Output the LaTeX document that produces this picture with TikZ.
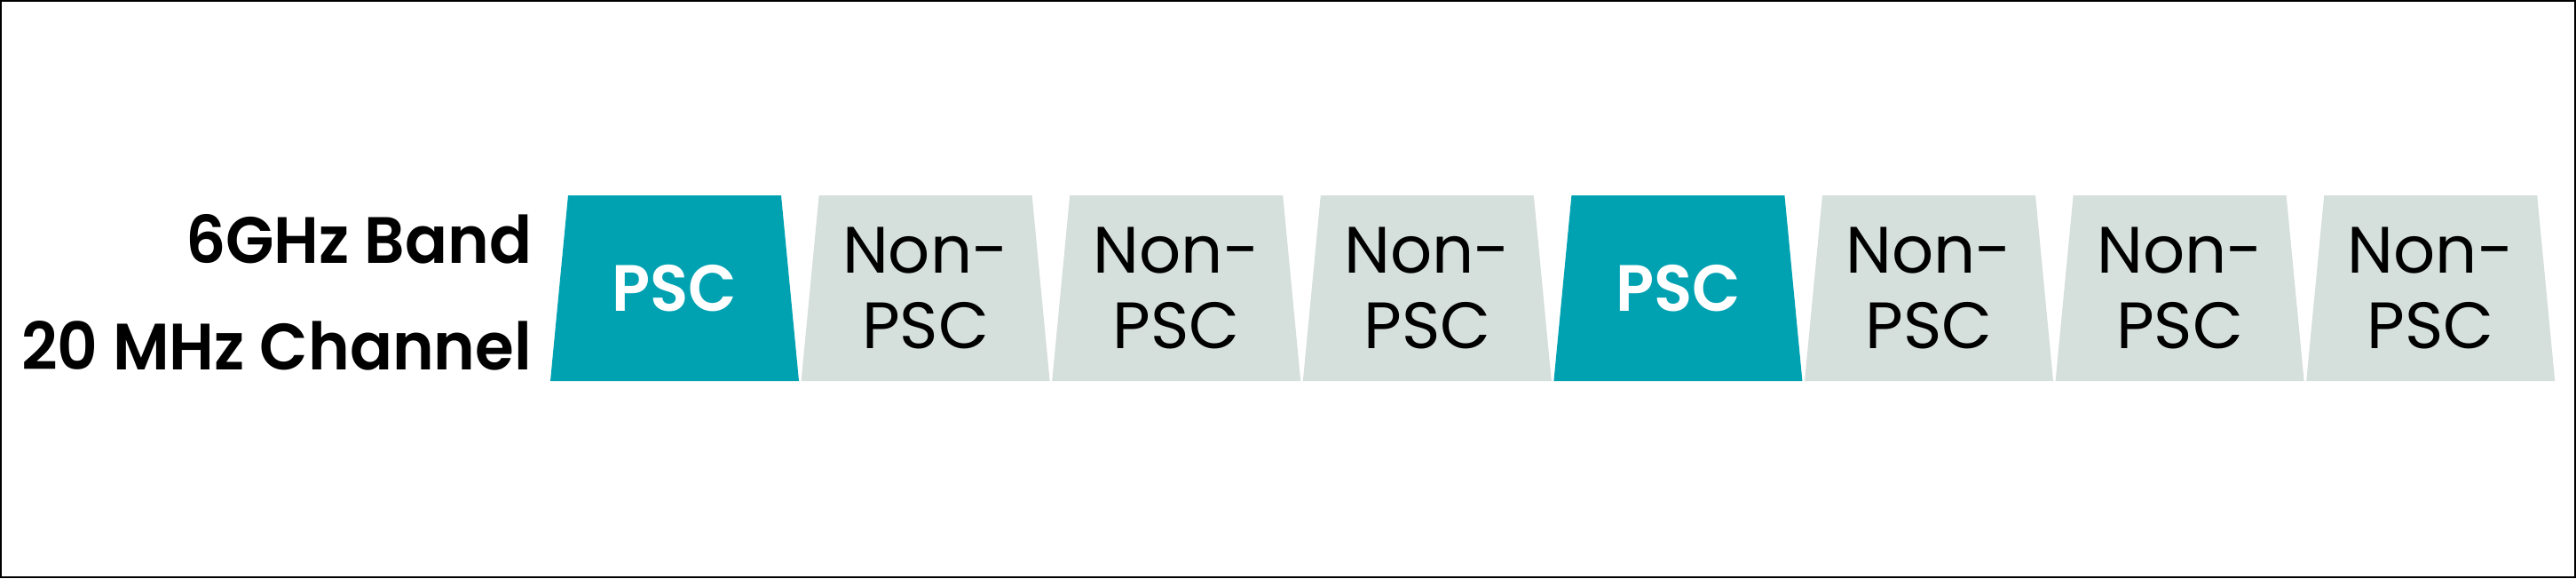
\documentclass[tikz,border=0pt]{standalone}
\usepackage{fontspec}
\setmainfont{Poppins}
\newfontfamily\semibold{Poppins}[UprightFont={* SemiBold}, FakeStretch=0.96]
\definecolor{pscColor}{HTML}{00A2B2}
\definecolor{nonColor}{HTML}{D5DFDB}
\tikzset{
	chan/.style={inner sep=0, outer sep=0, align=center, font=\fontsize{21}{24.2}\selectfont},
	psc/.style={chan, text=white, font=\fontsize{21}{24.2}\selectfont\semibold},
	nonpsc/.style={chan, text=black},
	lab/.style={anchor=base east, inner sep=0, font=\fontsize{21}{24}\selectfont\semibold}
}

\begin{document}
\begin{tikzpicture}
	\useasboundingbox (0,0) rectangle (29.02,6.51);
	\draw[line width=0.5pt] (0.009,0.009) rectangle (29.011,6.501);
	% labels on the left
	\node[lab] (band) at (6.00, 3.543) {6GHz Band};
	\node[lab] (chwidth) at (6.00, 2.343) {20 MHz Channel};
	% channel trapezia
	\foreach \i/\col in {0/pscColor,1/nonColor,2/nonColor,3/nonColor,4/pscColor,5/nonColor,6/nonColor,7/nonColor}
		\fill[\col] ({6.20+\i*2.826},2.22) -- ++(2.80,0) -- ++(-0.20,2.09) -- ++(-2.40,0) -- cycle;
	% channel texts
	\node[psc] (c1) at (7.600, 3.265) {PSC};
	\node[nonpsc] (c2) at (10.426, 3.265) {Non-\\PSC};
	\node[nonpsc] (c3) at (13.252, 3.265) {Non-\\PSC};
	\node[nonpsc] (c4) at (16.078, 3.265) {Non-\\PSC};
	\node[psc] (c5) at (18.904, 3.265) {PSC};
	\node[nonpsc] (c6) at (21.730, 3.265) {Non-\\PSC};
	\node[nonpsc] (c7) at (24.556, 3.265) {Non-\\PSC};
	\node[nonpsc] (c8) at (27.382, 3.265) {Non-\\PSC};
\end{tikzpicture}
\end{document}
